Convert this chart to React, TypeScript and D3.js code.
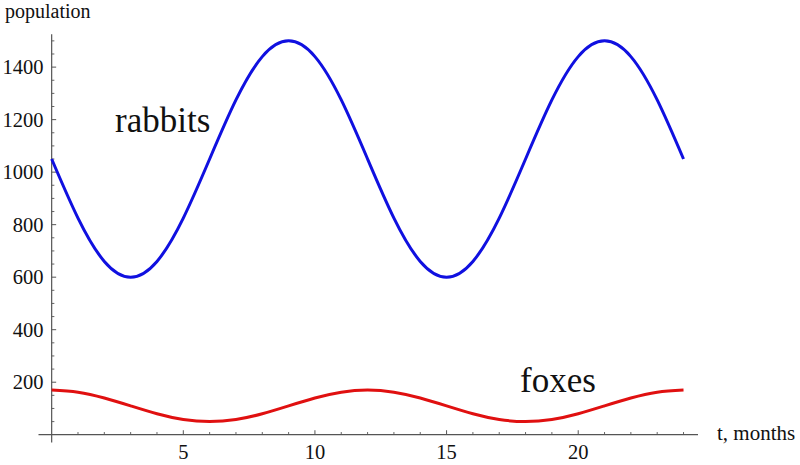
import React from "react";
import * as d3 from "d3";

const months = d3.range(0, 25);
const rabbits = [1050, 825, 660, 600, 660, 825, 1050, 1275, 1440, 1500, 1440, 1275, 1050, 825, 660, 600, 660, 825, 1050, 1275, 1440, 1500, 1440, 1275, 1050];
const foxes = [170, 162, 140, 110, 80, 58, 50, 58, 80, 110, 140, 162, 170, 162, 140, 110, 80, 58, 50, 58, 80, 110, 140, 162, 170];
const yMajorTicks = [200, 400, 600, 800, 1000, 1200, 1400];
const xMajorTicks = [5, 10, 15, 20];

const W = 800;
const H = 465;
const FONT = "'Liberation Serif', 'DejaVu Serif', serif";

export default function App() {
  const x = d3.scaleLinear().domain([-0.5, 24.55]).range([38.5, 698]);
  const y = d3.scaleLinear().domain([-30, 1525]).range([442.6, 34.3]);

  const yMinor = d3.range(50, 1501, 50).filter((v) => !yMajorTicks.includes(v));
  const xMinor = d3.range(1, 25).filter((v) => !xMajorTicks.includes(v));

  const line = d3
    .line<number>()
    .x((_, i) => x(months[i]))
    .y((d) => y(d))
    .curve(d3.curveNatural);

  const axisColor = "#555";
  const x0 = x(0);
  const y0 = y(0);

  return (
    <svg
      width={W}
      height={H}
      style={{ position: "absolute", left: 0, top: 0, background: "#fff" }}
      fontFamily={FONT}
    >
      <rect width={W} height={H} fill="#fff" />
      {/* axes */}
      <line x1={x(-0.5)} x2={x(24.55)} y1={y0} y2={y0} stroke={axisColor} strokeWidth={1.2} />
      <line x1={x0} x2={x0} y1={y(-30)} y2={y(1525)} stroke={axisColor} strokeWidth={1.2} />
      {/* y ticks */}
      {yMajorTicks.map((v) => (
        <g key={"ym" + v}>
          <line x1={x0} x2={x0 + 4.5} y1={y(v)} y2={y(v)} stroke={axisColor} strokeWidth={1} />
          <text x={43.5} y={y(v)} dy="0.35em" textAnchor="end" fontSize={20.5} fill="#111">
            {v}
          </text>
        </g>
      ))}
      {yMinor.map((v) => (
        <line key={"yn" + v} x1={x0} x2={x0 + 2.7} y1={y(v)} y2={y(v)} stroke={axisColor} strokeWidth={0.9} />
      ))}
      {/* x ticks */}
      {xMajorTicks.map((v) => (
        <g key={"xm" + v}>
          <line x1={x(v)} x2={x(v)} y1={y0} y2={y0 - 4.5} stroke={axisColor} strokeWidth={1} />
          <text x={x(v)} y={458.5} textAnchor="middle" fontSize={20.5} fill="#111">
            {v}
          </text>
        </g>
      ))}
      {xMinor.map((v) => (
        <line key={"xn" + v} x1={x(v)} x2={x(v)} y1={y0} y2={y0 - 2.7} stroke={axisColor} strokeWidth={0.9} />
      ))}
      {/* curves */}
      <path d={line(rabbits) || ""} fill="none" stroke="#1010e0" strokeWidth={3} />
      <path d={line(foxes) || ""} fill="none" stroke="#e01010" strokeWidth={3} />
      {/* labels */}
      <text x={5} y={18} fontSize={20} fill="#111">population</text>
      <text x={717} y={440} fontSize={21} fill="#111">t, months</text>
      <text x={115} y={131.7} fontSize={35} fill="#111">rabbits</text>
      <text x={520} y={391.7} fontSize={35} fill="#111">foxes</text>
    </svg>
  );
}
